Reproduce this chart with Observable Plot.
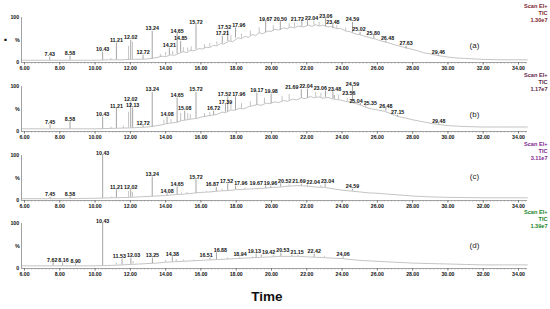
<!DOCTYPE html>
<html><head><meta charset="utf-8">
<script src="https://cdn.jsdelivr.net/npm/d3@7"></script>
<script src="https://cdn.jsdelivr.net/npm/@observablehq/plot@0.6"></script>
<style>
body{margin:0;background:#fff;}
#wrap{position:relative;width:550px;height:309px;overflow:hidden;font-family:"Liberation Sans",Arial,sans-serif;background:#fff;}
.panel{position:absolute;left:0;}
#title{position:absolute;left:0;width:534px;text-align:center;top:289px;font-weight:bold;font-size:13.5px;line-height:15px;color:#111;}
</style></head><body><div id="wrap"></div><script>
// ---------- data ----------
const xTicks = [6, 8, 10, 12, 14, 16, 18, 20, 22, 24, 26, 28, 30, 32, 34];
const yTickTop = "100";
const yTickBottom = "0";
const panelNames = ["(a)", "(b)", "(c)", "(d)"];
const ticScales = ["1.30e7", "1.17e7", "3.11e7", "1.39e7"];

// Panel (a)
const traceTimeA = [5.85,6.5,7.2,7.6,8.3,8.8,9.5,10.2,10.7,11.0,11.5,12.0,12.5,13.0,13.5,13.8,14.0,14.3,14.5,14.8,15.0,15.2,15.4,15.6,15.9,16.1,16.3,16.5,16.7,16.9,17.1,17.3,17.6,17.8,18.1,18.3,18.5,18.7,18.9,19.1,19.3,19.5,19.8,20.0,20.2,20.4,20.7,20.9,21.1,21.3,21.5,21.8,22.1,22.3,22.5,22.7,22.9,23.2,23.4,23.7,23.9,24.2,24.4,24.8,25.0,25.3,25.6,25.9,26.2,26.6,27.0,27.4,27.8,28.2,28.6,29.0,29.5,30.0,30.5,31.0,32.0,33.0,34.0,34.5];
const traceValA = [5,5,5,5,5,5,5,5,6,6,6,7,7,8,11,14,13,17,16,21,24,22,27,26,31,30,34,33,38,37,42,41,48,46,55,53,58,56,62,60,66,64,70,69,74,72,77,75,79,77,81,79,83,80,84,81,83,79,80,75,76,70,69,63,62,58,55,52,48,44,39,35,31,27,22,19,15,12,10,9,7,6,6,6];
const peakTimeA = [7.43,8.58,10.43,11.21,12.02,12.72,13.24,14.21,14.65,14.85,15.72,17.21,17.52,17.96,19.67,20.50,21.72,22.04,23.06,23.48,24.59,25.02,25.80,26.48,27.63,29.46];
const peakTopA  = [12,14,23,43,49,16,69,32,64,47,84,58,72,77,91,91,91,93,97,84,89,67,60,48,36,17];
const peakBaseA = [5,5,5,6,7,7,8,16,19,22,29,42,47,54,67,72,80,82,80,75,66,61,53,44,30,14];
const minorTimeA = [10.9,11.9,12.12,13.7,14.0,14.4,15.0,15.25,15.45,16.2,16.5,16.9,17.7,18.3,18.8,19.3,20.1,21.0,21.3,22.4,22.7,23.7,24.2];
const minorTopA  = [9,36,45,18,22,25,33,32,35,40,42,46,60,63,70,77,82,86,88,92,89,82,76];
const minorBaseA = [6,6,7,12,14,17,23,24,26,31,34,38,47,54,59,65,70,76,78,82,81,75,70];

// Panel (b)
const traceTimeB = [5.85,7,8,9,10,11,12,12.5,13.0,13.5,13.8,14.0,14.3,14.6,14.9,15.2,15.5,15.8,16.0,16.3,16.6,16.9,17.2,17.4,17.7,17.9,18.2,18.4,18.7,18.9,19.2,19.4,19.7,19.9,20.2,20.4,20.7,20.9,21.2,21.4,21.7,21.9,22.2,22.4,22.7,22.9,23.2,23.4,23.7,23.9,24.2,24.5,24.8,25.1,25.4,25.7,26.0,26.4,26.8,27.2,27.6,28.0,28.4,28.8,29.2,29.6,30.0,30.5,31.0,32,33,34,34.5];
const traceValB = [6,6,6,6,6,7,8,9,10,13,15,17,19,20,24,26,28,29,32,34,36,38,43,42,48,47,52,50,55,57,60,58,63,62,66,64,69,67,72,70,75,73,78,75,77,74,76,73,71,70,67,65,62,58,53,50,48,45,39,33,30,26,23,20,17,15,13,12,11,10,10,10,10];
const peakTimeB = [7.45,8.58,10.43,11.21,12.02,12.13,12.72,13.24,14.08,14.65,15.08,15.72,16.72,17.39,17.52,17.96,19.17,19.98,21.69,22.04,23.06,23.48,23.56,24.59,25.04,25.35,26.48,27.15,29.48];
const peakTopB  = [15,22,32,51,65,52,13,87,32,74,45,87,45,60,77,77,85,83,93,94,90,88,80,100,62,57,51,36,17];
const peakBaseB = [6,6,6,7,8,8,9,10,17,20,25,29,36,43,44,47,59,62,74,74,76,73,72,65,58,54,45,32,15];
const minorTimeB = [10.9,11.6,11.9,13.9,14.3,14.85,15.25,15.4,16.2,16.5,17.7,18.3,18.8,19.6,20.6,21.0,22.5,22.8,23.8,24.3];
const minorTopB  = [10,12,43,25,27,40,40,38,40,42,60,62,66,74,78,82,87,85,80,74];
const minorBaseB = [7,7,8,16,19,23,26,27,33,35,48,51,56,62,67,69,76,76,71,67];

// Panel (c)
const traceTimeC = [5.85,7,8,9,10,11,12,13,13.5,14,14.5,15,15.5,16,16.5,17,17.5,18,18.5,19,19.5,20,20.5,21,21.5,22,22.5,23,23.5,24,24.5,25,25.5,26,27,28,29,30,31,32,34.5];
const traceValC = [4,4,4,4.5,5,6,7,9,10,11,13,14,16,18,19,21,22,24,25,26,27,29,30,32,33,32,30,29,26,23,21,19,17,16,13,10,8,7,6.5,6,6];
const peakTimeC = [7.45,8.58,10.43,11.21,12.02,13.24,14.08,14.65,15.72,16.87,17.52,17.96,19.67,19.96,20.52,21.69,22.04,23.04,24.59];
const peakTopC  = [7,8,100,24,24,52,15,30,46,29,37,32,32,32,37,36,34,37,25];
const peakBaseC = [4,4,5,6,7,9,11,13,16,20,22,24,27,28,30,33,32,29,21];
const minorTimeC = [10.95,11.9,12.12,14.9,15.2,16.3,17.2,18.5,21.0,22.8];
const minorTopC  = [8,20,18,17,18,21,25,28,35,33];
const minorBaseC = [6,7,7,14,15,19,22,25,32,29];

// Panel (d)
const traceTimeD = [5.85,7,8,9,10,11,11.5,12,12.5,13,13.5,14,14.5,15,15.5,16,16.5,17,17.5,18,18.5,19,19.5,20,20.5,21,21.5,22,22.5,23,23.5,24,24.5,25,26,27,28,29,30,31,32,34.5];
const traceValD = [6,6,6,6,6,7,8,9,10,11,12,14,15,16,17,18,19,20,21,22,23,24,25,26,27,27,27,26,25,24,23,22,20,18,16,14,12,11,10,9,8,8];
const peakTimeD = [7.62,8.16,8.90,10.43,11.53,12.03,13.25,14.38,16.51,16.88,18.94,19.13,19.42,20.53,21.15,22.42,24.06];
const peakTopD  = [13,12,10,100,21,23,23,26,23,35,25,32,30,34,29,32,26];
const peakBaseD = [6,6,6,6,8,9,11,15,19,20,23,24,25,27,27,25,22];
const minorTimeD = [11.2,12.15,14.0,14.6,15.0,15.6,17.5,18.2,20.1,21.5,23.0];
const minorTopD  = [12,15,18,20,19,19,24,25,29,30,27];
const minorBaseD = [8,10,14,15,16,17,21,22,26,27,24];

// ---------- drawing ----------
const headerColors = ["#7d1f30", "#5e1f4a", "#80288f", "#23862a"];
const panelTops = [0, 69, 138, 206];
const nameDy = [25, 25, 18, 19];
const xDomain = [5.83, 34.51];
const traceColor = "#9c9c9c";
const FS = 5.3;

function textWidth(s) { let w = 0; for (const c of s) w += (c === "." ? 0.278 : 0.556); return w * FS; }

function makePanel(i, tT, tV, pT, pTop, pBase, mT, mTop, mBase) {
  const xs = d3.scaleLinear(xDomain, [21, 527]);
  const ys = d3.scaleLinear([0, 100], [62, 17]);
  const trace = tT.map((t, k) => ({t, v: tV[k]}));
  const peaks = pT.map((t, k) => ({t, top: pTop[k], base: pBase[k], label: t.toFixed(2)}));
  const minor = mT.map((t, k) => ({t, top: mTop[k], base: mBase[k]}));
  // simple label de-overlap (horizontal push)
  const boxes = peaks.map(p => ({p, x: xs(p.t), y: ys(p.top) - 1 - FS / 2, w: textWidth(p.label) + 1}));
  for (let it = 0; it < 80; it++) {
    for (let a = 0; a < boxes.length; a++) for (let b = a + 1; b < boxes.length; b++) {
      const A = boxes[a], B = boxes[b];
      if (Math.abs(A.y - B.y) >= FS + 0.4) continue;
      const need = (A.w + B.w) / 2 - (B.x - A.x);
      if (need > 0) { A.x -= need / 2; B.x += need / 2; }
    }
  }
  boxes.forEach(bx => bx.p.lx = xs.invert(bx.x));
  const minorTicks = d3.range(6, 34.5, 0.2);
  const marks = [
    Plot.ruleY([0], {stroke: "#8a8a8a", strokeWidth: 0.8}),
    Plot.ruleX([xDomain[0]], {stroke: "#8a8a8a", strokeWidth: 0.8}),
    Plot.axisX({ticks: minorTicks, tickSize: 1.6, tickFormat: () => "", stroke: "#9a9a9a", strokeWidth: 0.6}),
    Plot.axisX({ticks: xTicks, tickSize: 2.5, tickPadding: 1.6, tickFormat: d => d.toFixed(2), stroke: "#777", fill: "#111", fontSize: 5.2}),
    Plot.text([yTickTop], {frameAnchor: "top-left", lineAnchor: "middle", textAnchor: "end", dx: -2.4, fontSize: 5.2, fill: "#111"}),
    Plot.text([yTickBottom], {frameAnchor: "bottom-left", lineAnchor: "middle", textAnchor: "end", dx: -2.4, fontSize: 5.2, fill: "#111"}),
    Plot.text(["%"], {frameAnchor: "left", dx: -4, textAnchor: "middle", fontSize: 5.4, fill: "#222"}),
    Plot.line(trace, {x: "t", y: "v", stroke: traceColor, strokeWidth: 0.6}),
    Plot.ruleX(minor, {x: "t", y1: "base", y2: "top", stroke: traceColor, strokeWidth: 0.6}),
    Plot.ruleX(peaks, {x: "t", y1: "base", y2: "top", stroke: "#8e8e8e", strokeWidth: 0.8}),
    Plot.text(peaks, {x: "lx", y: "top", text: "label", dy: -1, lineAnchor: "bottom", fontSize: FS, fill: "#111"}),
    Plot.text([`Scan EI+\nTIC\n${ticScales[i]}`], {frameAnchor: "top-right", dx: 20, dy: -14, textAnchor: "end", lineAnchor: "top", lineHeight: 1.25, fontSize: 5.6, fill: headerColors[i]}),
    Plot.text([panelNames[i]], {frameAnchor: "top-right", dx: -53, dy: nameDy[i], textAnchor: "middle", fontSize: 8, fontWeight: "normal", fill: "#222"})
  ];
  if (i === 0) marks.push(Plot.text(["■"], {frameAnchor: "left", dx: -16, textAnchor: "middle", fontSize: 4.5, fill: "#111"}));
  const svg = Plot.plot({
    width: 550, height: 69,
    marginLeft: 21, marginRight: 23, marginTop: 17, marginBottom: 7,
    x: {domain: xDomain, axis: null},
    y: {domain: [0, 100], axis: null},
    style: {fontFamily: "'Liberation Sans', Arial, sans-serif", fontWeight: "bold", background: "transparent", overflow: "visible"},
    marks
  });
  svg.classList.add("panel");
  svg.style.top = panelTops[i] + "px";
  return svg;
}

const wrap = document.getElementById("wrap");
wrap.appendChild(makePanel(0, traceTimeA, traceValA, peakTimeA, peakTopA, peakBaseA, minorTimeA, minorTopA, minorBaseA));
wrap.appendChild(makePanel(1, traceTimeB, traceValB, peakTimeB, peakTopB, peakBaseB, minorTimeB, minorTopB, minorBaseB));
wrap.appendChild(makePanel(2, traceTimeC, traceValC, peakTimeC, peakTopC, peakBaseC, minorTimeC, minorTopC, minorBaseC));
wrap.appendChild(makePanel(3, traceTimeD, traceValD, peakTimeD, peakTopD, peakBaseD, minorTimeD, minorTopD, minorBaseD));
const title = document.createElement("div");
title.id = "title";
title.textContent = "Time";
wrap.appendChild(title);
</script></body></html>
